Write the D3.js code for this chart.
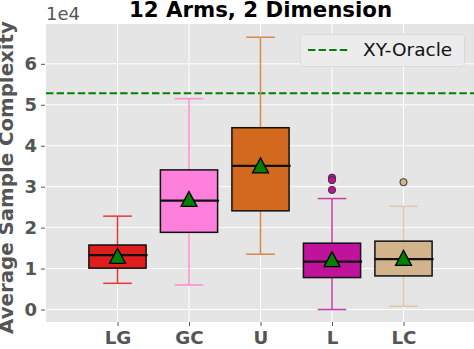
<!DOCTYPE html>
<html><head><meta charset="utf-8">
<script src="https://cdn.jsdelivr.net/npm/d3@7"></script>
<style>body{margin:0;background:#fff}svg{display:block}text{font-family:"DejaVu Sans",sans-serif}</style>
</head><body><svg id="c" width="474" height="349"></svg>
<script>
const categories = ["LG","GC","U","L","LC"];
const colors = ["#de1d1d","#ff80dc","#d2691e","#c0139c","#d2b48c"];
const whiskerColors = ["#e03a3a","#ff8ccf","#d98a4a","#c73aa8","#dcc8ac"];
const q1 = [1.01, 1.885, 2.41, 0.78, 0.82];
const medians = [1.33, 2.66, 3.51, 1.17, 1.23];
const q3 = [1.575, 3.41, 4.44, 1.62, 1.67];
const whiskerLow = [0.64, 0.60, 1.35, 0.0, 0.08];
const whiskerHigh = [2.28, 5.15, 6.65, 2.71, 2.52];
const means = [1.31, 2.70, 3.52, 1.23, 1.26];
const outliers = [[], [], [], [3.22, 3.16, 2.92], [3.11]];
const oracle = 5.28;
const yTicks = [0,1,2,3,4,5,6];

const svg = d3.select("#c");
const L = 46, R = 475, T = 24, B = 322;
const x = d3.scaleLinear().domain([0,6]).range([L,R]);
const y = d3.scaleLinear().domain([-0.305,6.973]).range([B,T]);
const grey = "#555555";

svg.append("rect").attr("x",L).attr("y",T).attr("width",R-L).attr("height",B-T).attr("fill","#e5e5e5");
// grid
svg.append("g").selectAll("line").data(yTicks).join("line")
  .attr("x1",L).attr("x2",R).attr("y1",d=>y(d)).attr("y2",d=>y(d)).attr("stroke","#fff").attr("stroke-width",1);
svg.append("g").selectAll("line").data(categories).join("line")
  .attr("x1",(d,i)=>x(i+1)).attr("x2",(d,i)=>x(i+1)).attr("y1",T).attr("y2",B).attr("stroke","#fff").attr("stroke-width",1);

// axes
const yAxis = d3.axisLeft(y).tickValues(yTicks).tickFormat(d3.format("d")).tickSize(4).tickPadding(4);
const gy = svg.append("g").attr("transform",`translate(${L-1},0)`).call(yAxis);
gy.select(".domain").remove();
gy.selectAll("line").attr("stroke",grey);
gy.selectAll("text").attr("fill",grey).attr("font-size",18).attr("font-weight","bold").attr("font-family","DejaVu Sans");
const xAxis = d3.axisBottom(x).tickValues([1,2,3,4,5]).tickFormat((d)=>categories[d-1]).tickSize(4).tickPadding(5);
const gx = svg.append("g").attr("transform",`translate(0,${B})`).call(xAxis);
gx.select(".domain").remove();
gx.selectAll("line").attr("stroke",grey);
gx.selectAll("text").attr("fill",grey).attr("font-size",18.3).attr("font-weight","bold").attr("font-family","DejaVu Sans");

// oracle line
svg.append("line").attr("x1",L).attr("x2",R).attr("y1",y(oracle)).attr("y2",y(oracle))
  .attr("stroke","#008000").attr("stroke-width",2).attr("stroke-dasharray","7.4,3.2");

// boxes
const bw = 0.8*(x(1)-x(0));
const cw = bw/2;
const g = svg.append("g");
categories.forEach((c,i)=>{
  const cx = x(i+1);
  const wc = whiskerColors[i];
  g.append("line").attr("x1",cx).attr("x2",cx).attr("y1",y(q3[i])).attr("y2",y(whiskerHigh[i])).attr("stroke",wc).attr("stroke-width",1.5);
  g.append("line").attr("x1",cx).attr("x2",cx).attr("y1",y(q1[i])).attr("y2",y(whiskerLow[i])).attr("stroke",wc).attr("stroke-width",1.5);
  g.append("line").attr("x1",cx-cw/2).attr("x2",cx+cw/2).attr("y1",y(whiskerHigh[i])).attr("y2",y(whiskerHigh[i])).attr("stroke",wc).attr("stroke-width",1.5);
  g.append("line").attr("x1",cx-cw/2).attr("x2",cx+cw/2).attr("y1",y(whiskerLow[i])).attr("y2",y(whiskerLow[i])).attr("stroke",wc).attr("stroke-width",1.5);
  g.append("rect").attr("x",cx-bw/2).attr("y",y(q3[i])).attr("width",bw).attr("height",y(q1[i])-y(q3[i]))
    .attr("fill",colors[i]).attr("stroke","#111").attr("stroke-width",1.5);
  g.append("line").attr("x1",cx-bw/2).attr("x2",cx+bw/2+1.5).attr("y1",y(medians[i])).attr("y2",y(medians[i])).attr("stroke","#111").attr("stroke-width",2.2);
  outliers[i].forEach(v=>{
    g.append("circle").attr("cx",cx).attr("cy",y(v)).attr("r",3.6).attr("fill",colors[i]).attr("stroke","#333").attr("stroke-width",1);
  });
  const my = y(means[i]), h = 7.5, w = 8;
  g.append("path").attr("d",`M${cx},${my-h}L${cx+w},${my+h}L${cx-w},${my+h}Z`)
    .attr("fill","#008000").attr("stroke","#000").attr("stroke-width",1.3);
});

// legend
svg.append("rect").attr("x",300.5).attr("y",34.5).attr("width",164).attr("height",32).attr("rx",3)
  .attr("fill","#ececec").attr("stroke","#d9d9d9").attr("stroke-width",1);
svg.append("line").attr("x1",308).attr("x2",348).attr("y1",50).attr("y2",50)
  .attr("stroke","#008000").attr("stroke-width",2).attr("stroke-dasharray","7.4,3.2");
svg.append("text").attr("x",363).attr("y",56).attr("font-size",18.5).attr("fill","#111").text("XY-Oracle");

// title & labels
svg.append("text").attr("x",260.5).attr("y",17).attr("text-anchor","middle").attr("font-size",21.3)
  .attr("font-weight","bold").attr("fill","#000").text("12 Arms, 2 Dimension");
svg.append("text").attr("x",46).attr("y",20).attr("font-size",18).attr("fill",grey).text("1e4");
svg.append("text").attr("transform",`translate(13,177.5) rotate(-90)`).attr("text-anchor","middle")
  .attr("font-size",19.8).attr("font-weight","bold").attr("fill",grey).text("Average Sample Complexity");
</script></body></html>
